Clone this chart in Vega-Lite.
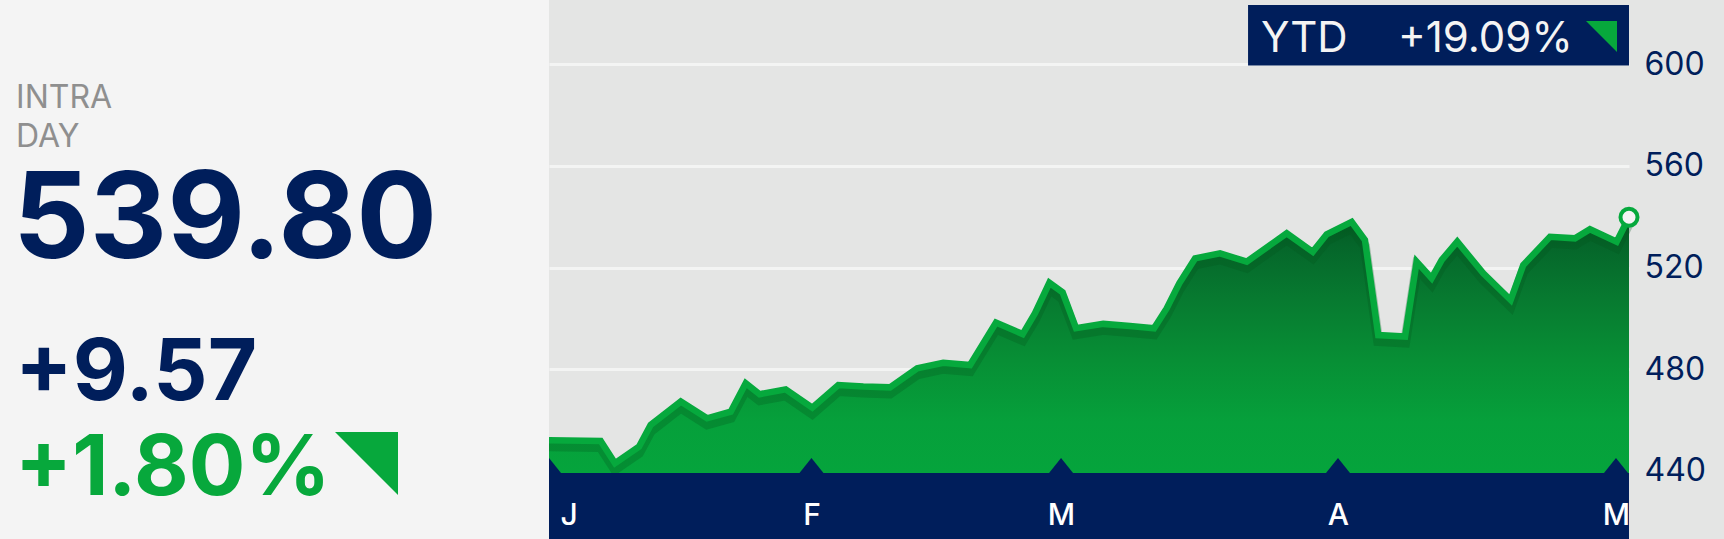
{
  "$schema": "https://vega.github.io/schema/vega-lite/v6.json",
  "description": "Year-to-date share price with intraday summary",
  "width": 1080,
  "height": 473,
  "autosize": {"type": "none"},
  "padding": {"left": 549, "top": 0, "right": 95, "bottom": 66},
  "background": "#e4e5e4",
  "config": {
    "view": {"stroke": null},
    "font": "Inter",
    "text": {"font": "Inter"}
  },
  "data": {"values": [{}]},
  "datasets": {
    "prices": [
      {"session": 0, "close": 452.0},
      {"session": 3.93, "close": 451.7},
      {"session": 5.02, "close": 442.9},
      {"session": 6.84, "close": 449.4},
      {"session": 7.73, "close": 458.0},
      {"session": 10.02, "close": 467.2},
      {"session": 12.02, "close": 460.6},
      {"session": 13.82, "close": 463.2},
      {"session": 14.96, "close": 474.4},
      {"session": 16.02, "close": 470.1},
      {"session": 18.0, "close": 472.0},
      {"session": 20.02, "close": 464.8},
      {"session": 22.0, "close": 473.7},
      {"session": 23.9, "close": 473.1},
      {"session": 25.93, "close": 472.8},
      {"session": 28.0, "close": 480.3},
      {"session": 29.98, "close": 482.5},
      {"session": 32.02, "close": 481.6},
      {"session": 33.99, "close": 498.3},
      {"session": 36.02, "close": 493.8},
      {"session": 36.96, "close": 502.0},
      {"session": 38.05, "close": 514.0},
      {"session": 39.06, "close": 510.2},
      {"session": 40.08, "close": 496.1},
      {"session": 42.15, "close": 497.8},
      {"session": 44.18, "close": 497.0},
      {"session": 46.01, "close": 496.1},
      {"session": 46.97, "close": 503.9},
      {"session": 47.93, "close": 513.8},
      {"session": 49.13, "close": 523.6},
      {"session": 51.03, "close": 525.6},
      {"session": 53.06, "close": 522.3},
      {"session": 56.1, "close": 533.5},
      {"session": 58.08, "close": 526.2},
      {"session": 59.14, "close": 533.1},
      {"session": 61.04, "close": 538.0},
      {"session": 62.05, "close": 530.8},
      {"session": 63.06, "close": 493.4},
      {"session": 65.1, "close": 492.8},
      {"session": 65.98, "close": 522.3},
      {"session": 67.12, "close": 515.8},
      {"session": 67.89, "close": 523.0},
      {"session": 69.07, "close": 530.2},
      {"session": 71.05, "close": 517.7},
      {"session": 73.13, "close": 507.2},
      {"session": 74.09, "close": 521.0},
      {"session": 76.12, "close": 532.1},
      {"session": 78.02, "close": 531.5},
      {"session": 79.16, "close": 535.1},
      {"session": 81.19, "close": 530.2},
      {"session": 82.13, "close": 539.8}
    ],
    "months": [
      {"session": 0, "month": "J"},
      {"session": 19.96, "month": "F"},
      {"session": 38.94, "month": "M"},
      {"session": 60.0, "month": "A"},
      {"session": 81.14, "month": "M"}
    ]
  },
  "layer": [
    {
      "data": {"name": "prices"},
      "mark": {
        "type": "area",
        "color": {
          "gradient": "linear",
          "x1": 0, "y1": 0, "x2": 0, "y2": 1,
          "stops": [
            {"offset": 0, "color": "#03581f"},
            {"offset": 0.1, "color": "#05652a"},
            {"offset": 0.32, "color": "#077a30"},
            {"offset": 0.56, "color": "#078f35"},
            {"offset": 0.8, "color": "#06a03b"},
            {"offset": 1, "color": "#05a43c"}
          ]
        }
      },
      "encoding": {
        "x": {
          "field": "session",
          "type": "quantitative",
          "title": null,
          "scale": {"domain": [0, 82.13], "nice": false, "zero": false},
          "axis": {
            "title": null,
            "orient": "bottom",
            "values": [0, 19.96, 38.94, 60.0, 81.14],
            "labelExpr": "datum.value < 10 ? 'J' : datum.value < 30 ? 'F' : datum.value < 50 ? 'M' : datum.value < 70 ? 'A' : 'M'",
            "domain": false,
            "ticks": false,
            "grid": false,
            "labelColor": "white",
            "labelFont": "Inter",
            "labelFontSize": 30,
            "labelFontWeight": 500,
            "labelPadding": 27,
            "labelOverlap": false,
            "labelBound": false,
            "labelFlush": false,
            "labelAlign": {"expr": "datum.value == 0 ? 'left' : 'center'"},
            "labelOffset": {"expr": "datum.value == 0 ? 11 : 0"},
            "zindex": 1
          }
        },
        "y": {
          "field": "close",
          "type": "quantitative",
          "title": null,
          "scale": {"domain": [439.07, 625.37], "nice": false, "zero": false},
          "axis": {
            "title": null,
            "orient": "right",
            "values": [440, 480, 520, 560, 600],
            "domain": false,
            "ticks": false,
            "grid": true,
            "gridColor": "#f3f4f3",
            "gridWidth": 3,
            "labelColor": "#001e5b",
            "labelFont": "Inter",
            "labelFontSize": 32,
            "labelPadding": 15,
            "labelBaseline": "middle",
            "labelOverlap": false,
            "labelBound": false,
            "labelFlush": false,
            "zindex": 0
          }
        },
        "y2": {"datum": 439.07}
      }
    },
    {
      "data": {"name": "prices"},
      "mark": {"type": "line", "color": "#03551c", "opacity": 0.28, "strokeWidth": 10, "yOffset": 6, "strokeJoin": "miter"},
      "encoding": {
        "x": {"field": "session", "type": "quantitative"},
        "y": {"field": "close", "type": "quantitative"}
      }
    },
    {
      "data": {"name": "prices"},
      "mark": {"type": "line", "color": "#06a93d", "strokeWidth": 6.5, "strokeJoin": "miter"},
      "encoding": {
        "x": {"field": "session", "type": "quantitative"},
        "y": {"field": "close", "type": "quantitative"}
      }
    },
    {
      "mark": {"type": "rect", "color": "#001e5b"},
      "encoding": {
        "x": {"datum": 0, "type": "quantitative"},
        "x2": {"datum": 82.13},
        "y": {"datum": 439.07, "type": "quantitative"},
        "y2": {"datum": 400}
      }
    },
    {
      "data": {"name": "months"},
      "mark": {"type": "point", "shape": "M-1,0L0,-1.25L1,0Z", "size": 576, "filled": true, "color": "#001e5b", "opacity": 1},
      "encoding": {
        "x": {"field": "session", "type": "quantitative"},
        "y": {"datum": 439.07, "type": "quantitative"}
      }
    },
    {
      "data": {"name": "prices"},
      "transform": [{"filter": "datum.session >= 82"}],
      "mark": {"type": "point", "shape": "circle", "size": 290, "filled": true, "fill": "#f4f4f4", "stroke": "#06a93d", "strokeWidth": 4, "opacity": 1},
      "encoding": {
        "x": {"field": "session", "type": "quantitative"},
        "y": {"field": "close", "type": "quantitative"}
      }
    },
    {
      "mark": {"type": "rect", "color": "#f4f4f4"},
      "encoding": {
        "x": {"datum": -45, "type": "quantitative"},
        "x2": {"datum": 0},
        "y": {"datum": 700, "type": "quantitative"},
        "y2": {"datum": 400}
      }
    },
    {
      "mark": {"type": "text", "text": "INTRA", "align": "left", "baseline": "alphabetic", "fontSize": 32, "color": "#8f8f8f"},
      "encoding": {
        "x": {"datum": -40.53, "type": "quantitative"},
        "y": {"datum": 582.83, "type": "quantitative"}
      }
    },
    {
      "mark": {"type": "text", "text": "DAY", "align": "left", "baseline": "alphabetic", "fontSize": 32, "color": "#8f8f8f"},
      "encoding": {
        "x": {"datum": -40.53, "type": "quantitative"},
        "y": {"datum": 567.47, "type": "quantitative"}
      }
    },
    {
      "mark": {"type": "text", "text": "539.80", "align": "left", "baseline": "alphabetic", "fontSize": 120, "fontWeight": "bold", "color": "#001e5b"},
      "encoding": {
        "x": {"datum": -40.76, "type": "quantitative"},
        "y": {"datum": 523.75, "type": "quantitative"}
      }
    },
    {
      "mark": {"type": "text", "text": "+9.57", "align": "left", "baseline": "alphabetic", "fontSize": 85, "fontWeight": "bold", "color": "#001e5b"},
      "encoding": {
        "x": {"datum": -40.6, "type": "quantitative"},
        "y": {"datum": 467.8, "type": "quantitative"}
      }
    },
    {
      "mark": {"type": "text", "text": "+1.80%", "align": "left", "baseline": "alphabetic", "fontSize": 84, "fontWeight": "bold", "color": "#07a83c"},
      "encoding": {
        "x": {"datum": -40.6, "type": "quantitative"},
        "y": {"datum": 430.4, "type": "quantitative"}
      }
    },
    {
      "mark": {"type": "point", "shape": "M-1,-1L1,-1L1,1Z", "size": 3969, "filled": true, "color": "#07a83c", "opacity": 1},
      "encoding": {
        "x": {"datum": -13.88, "type": "quantitative"},
        "y": {"datum": 442.8, "type": "quantitative"}
      }
    },
    {
      "mark": {"type": "rect", "color": "#001e5b"},
      "encoding": {
        "x": {"datum": 53.16, "type": "quantitative"},
        "x2": {"datum": 82.13},
        "y": {"datum": 623.4, "type": "quantitative"},
        "y2": {"datum": 599.6}
      }
    },
    {
      "mark": {"type": "text", "text": "YTD", "align": "left", "baseline": "alphabetic", "fontSize": 42, "color": "#f4f4f4"},
      "encoding": {
        "x": {"datum": 54.14, "type": "quantitative"},
        "y": {"datum": 604.9, "type": "quantitative"}
      }
    },
    {
      "mark": {"type": "text", "text": "+19.09%", "align": "left", "baseline": "alphabetic", "fontSize": 42, "color": "#f4f4f4"},
      "encoding": {
        "x": {"datum": 64.56, "type": "quantitative"},
        "y": {"datum": 604.9, "type": "quantitative"}
      }
    },
    {
      "mark": {"type": "point", "shape": "M-1,-1L1,-1L1,1Z", "size": 961, "filled": true, "color": "#07a83c", "opacity": 1},
      "encoding": {
        "x": {"datum": 80.04, "type": "quantitative"},
        "y": {"datum": 610.99, "type": "quantitative"}
      }
    }
  ]
}
